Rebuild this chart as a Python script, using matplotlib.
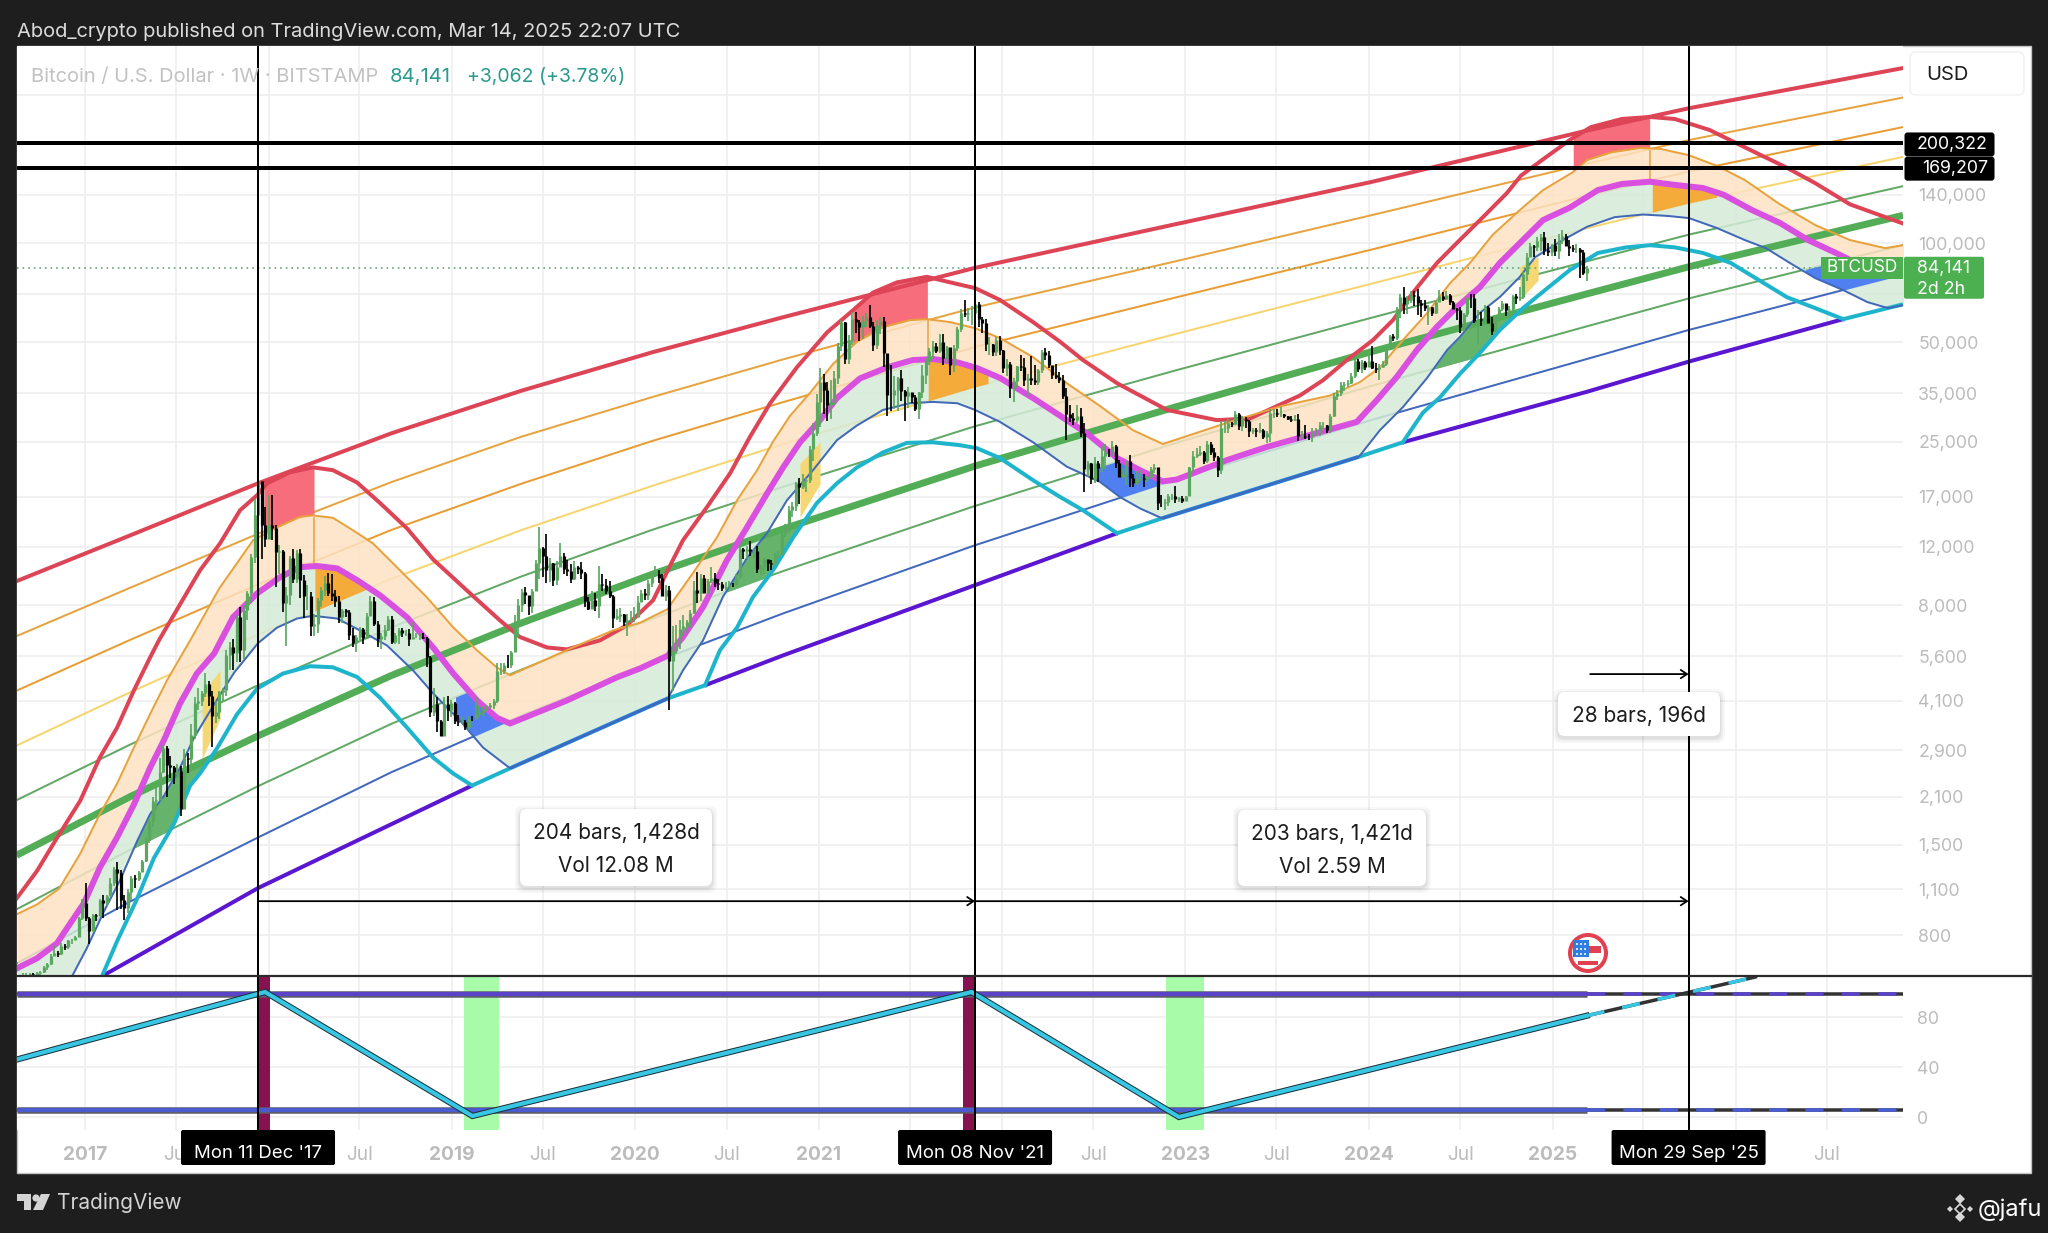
import datetime as dt
import numpy as np
import matplotlib
matplotlib.use("Agg")
import matplotlib.pyplot as plt
from matplotlib.patches import Rectangle, FancyBboxPatch, Circle, Polygon
from matplotlib.ticker import NullLocator

plt.rcParams['font.family'] = ['Inter', 'DejaVu Sans']

W, H = 2048, 1233
first_week = dt.date(2016, 8, 15)

# weekly candles, one list per field, first bar is the week of 15 Aug 2016
closes = [
    580,570,606,607,608,600,612,618,640,655,690,705,700,740,735,770,772,790,900,1000,
    900,820,920,915,1020,1000,1050,1150,1270,1230,1020,965,1080,1190,1180,1240,1340,1550,1770,2040,
    2050,2500,2950,2620,2580,2490,2510,1930,2750,2730,3220,4050,4100,4340,4600,4230,3680,3780,4350,4430,
    5650,5950,5740,7350,5860,7700,8700,11200,15000,19000,14000,12700,
    14000,13700,11600,11700,8100,8600,11100,9600,11500,9500,8500,8500,6900,7000,8300,8900,9350,8700,8500,8200,
    7350,7700,7600,6500,6150,6400,6750,6350,7400,8200,7000,6300,6450,6700,7250,6200,6500,6700,6600,6600,
    6300,6420,6420,6420,6350,5550,3800,4000,3550,3200,4000,3850,4050,
    3550,3530,3530,3410,3620,3600,3740,3800,3880,3920,3970,4090,5050,5060,5280,5260,5750,6950,8000,8750,
    8550,7950,8850,10700,11900,11300,10200,10700,9500,10400,11300,10300,10140,9600,10400,10300,10000,8200,7800,8300,
    7950,9250,9200,8800,8500,7300,7400,7520,7100,7200,7250,7350,
    8180,8700,8600,9330,9900,9900,9670,8530,8900,5400,5800,6250,6780,6900,7130,7540,8880,8700,9650,8700,
    9450,9670,9360,9290,9000,9070,9230,9200,9700,11800,11650,11850,11650,11700,10250,10400,11000,10750,10650,11350,
    11350,13100,13750,15500,16000,18700,18200,19000,19100,23800,26500,33000,
    38000,35800,32200,33000,38900,48600,57500,44600,51000,59000,57500,55800,57900,59700,56200,49000,56600,58000,46400,34700,
    34600,35800,39000,35500,34500,35300,34200,31500,35400,39900,43800,47000,48900,47000,50000,44900,48300,42700,48200,55000,
    61500,61000,61300,61500,65500,58700,57200,49300,49300,46700,50700,47300,
    41800,43100,36300,38150,42400,42200,38400,39100,38400,37800,41300,46800,45800,42700,39700,39400,38500,34300,30300,29400,
    29000,29900,26600,20600,21500,19300,21600,20800,22600,23300,23200,24300,21500,19550,20000,21800,19400,18800,19300,19400,
    19250,19570,20600,20900,16300,16280,16450,17100,17100,16750,16840,16540,
    17100,20900,22700,23000,23300,21800,24600,23200,22400,20500,27500,27500,28450,28300,30300,27800,29200,28900,26900,27100,
    26900,27100,25900,26500,30500,30600,30300,30300,30000,29300,29000,29300,26000,26000,25900,25800,26500,26600,28000,28000,
    27200,30000,34500,35000,37100,37400,37700,39500,44000,41400,43700,42100,
    43900,41700,41600,42000,43000,48300,52100,51700,63100,68400,65300,67200,69600,69300,65700,64900,63400,63900,61500,66300,
    69300,67700,69600,66200,63200,62700,55800,60800,68200,68000,58200,58700,58500,64200,57300,54100,59900,63200,65900,62800,
    62900,69000,68000,68700,80400,90600,97900,97200,101200,104400,95100,93700,98300,
    94500,101300,104800,97700,96500,96100,96200,94200,81079,84141,
]
highs = [
    585,585,612,612,612,612,620,622,645,660,700,745,715,755,750,775,780,795,905,1030,
    1150,905,925,925,1025,1060,1060,1190,1290,1330,1260,1060,1100,1210,1220,1250,1350,1580,1800,2100,
    2250,2760,3020,3000,2780,2610,2630,2610,2920,2840,3490,4200,4480,4400,4980,4700,4400,4100,4400,4470,
    5860,6180,6300,7480,7900,8000,8830,11400,16800,19666,17500,15800,
    17200,17200,14000,12200,11750,9100,11300,11800,11750,11800,9850,9200,8750,7500,8430,9040,9770,9990,9900,8870,
    8500,7760,7760,7700,6820,6500,6850,6810,7550,8500,8480,7150,6580,6950,7420,7400,6600,6830,6800,6700,
    6780,7100,6600,6600,6570,6400,5600,4470,4200,3580,4220,4240,4130,
    4080,3720,3660,3590,3690,3700,4200,3970,3950,3990,4030,4140,5350,5350,5350,5630,5800,7450,8350,8950,
    9080,8400,8950,10950,13800,12000,13100,11100,10700,10900,12300,11500,10950,10640,10900,10500,10800,10080,8480,8800,
    8700,10500,9950,9560,9480,8550,7800,7830,7500,7520,7680,7880,
    8500,8900,8950,9550,10150,10500,10200,9950,9190,9150,6900,6950,7200,7450,7230,7750,9480,10080,9950,9850,
    9560,10400,9990,9600,9380,9400,9430,9300,9900,12100,11900,12090,12470,11830,12090,10580,11100,10980,10980,11490,
    11700,13200,14100,15970,16400,18850,19450,19920,19400,24300,28400,34800,
    41900,40100,37900,38500,40900,49700,58300,57500,52700,61800,61700,58400,60000,61200,64900,57500,58500,59600,59500,45800,
    42600,39500,39300,41300,35800,36700,35100,34600,35400,42600,44700,48200,50500,49800,52900,52900,48800,47300,49000,55700,
    62900,67000,63700,64300,69000,66300,59500,59000,51900,49500,51900,52100,
    47500,44500,43500,38900,42500,45800,44800,40000,45400,42600,41600,47500,48200,47000,42400,42900,40800,39800,36400,32200,
    30600,32400,31700,28500,21900,21500,22400,21900,24200,24600,23700,25200,24400,22000,20600,21900,22800,19900,20400,20500,
    19900,19700,21000,21400,20700,17200,16800,17300,17400,18400,17000,17100,
    17100,21000,23400,23900,24200,23400,25200,25000,23900,22700,28800,28800,29200,28600,31000,30500,30000,29800,29000,27500,
    27500,28400,27300,27000,31400,31400,31500,31800,30400,30000,30000,30200,30400,26900,28100,26300,27500,27500,28600,28600,
    28000,30300,35200,35900,38000,37900,38400,40300,44700,44400,44300,43800,
    45900,48900,43400,42900,43800,48500,52800,52900,64000,70200,73800,68900,71700,71400,72800,67200,67200,65000,64000,67400,
    71900,71000,71700,70000,66900,63500,63800,61400,68400,70000,70000,62800,61700,65000,64500,59800,60700,64100,66500,65500,
    64500,69400,70000,73600,81500,93500,99800,98800,104000,106500,108300,99900,99000,
    102700,106500,109800,106500,102000,98800,99500,96500,95000,85300,
]
lows = [
    560,560,565,600,600,590,595,605,612,625,650,690,685,695,720,725,750,770,790,890,
    880,750,870,880,915,900,980,1050,1130,950,960,890,930,1020,1110,1170,1240,1330,1520,1700,
    1900,2120,2470,2100,2400,2300,2450,1830,2220,2480,2620,3150,3850,3950,4200,3950,2970,3500,3600,4100,
    4250,5100,5100,5380,5380,5500,7200,8100,10700,14600,11000,12000,
    12800,12600,9100,9900,7600,6000,8000,9300,9300,8400,7300,7700,6450,6430,6600,7900,8500,8500,8200,7900,
    7040,7040,7350,6250,5970,5750,6250,6100,6300,7400,6900,5970,5880,6250,6650,6100,6100,6100,6400,6450,
    6000,6300,6350,6280,6300,5200,3650,3700,3300,3200,3200,3570,3650,
    3480,3450,3480,3340,3350,3570,3620,3650,3700,3820,3860,3880,4050,4900,4950,5150,5170,5750,6400,7600,
    8050,7450,7550,8970,9600,9700,9300,9400,9150,9200,10900,9950,9800,9350,9500,9900,9600,7900,7700,7800,
    7650,7300,8800,8650,8380,6800,7200,7100,6900,6450,7050,7100,
    7670,8150,8300,8300,9100,9700,9300,8500,8200,3850,4400,5700,5900,6450,6560,6800,7500,8100,8200,8800,
    8620,9300,9100,8900,8850,8900,9050,9050,9200,9600,11000,11050,11300,11100,10000,9850,9900,10150,10200,10550,
    11100,11300,12900,13200,14800,15450,16200,18000,17600,18800,21900,26000,
    27700,30400,28800,29300,32300,37400,47100,43000,43000,49200,53200,50400,51300,55500,55400,47000,47800,53000,42000,30000,
    31000,31300,31000,33300,28800,31700,32700,31000,29300,34000,37300,42800,44400,46300,46500,42800,43300,39700,40800,47100,
    53800,59600,58000,56500,62300,55600,53400,47000,45800,45500,45600,45700,
    40500,39600,34000,33000,36300,41000,36800,34300,37200,37200,37200,40500,44200,41800,38600,38600,37600,33700,25300,28600,
    28000,28500,25900,17600,19500,18600,18800,18900,20300,20700,22400,22700,20800,19500,19500,18500,18200,18200,18500,19000,
    18200,18900,19400,20100,15500,15800,15500,16000,16700,16300,16400,16300,
    16500,17100,20300,22300,22700,21400,21500,22800,21900,19500,19900,26500,26600,27700,28100,27100,26900,27600,25900,26400,
    25800,26500,25400,24800,25000,29500,29800,29700,29500,29000,28600,28800,25200,25400,25400,25300,24900,26000,26000,27200,
    26500,26600,29700,33400,34500,35500,36700,37500,39000,40600,40500,41300,
    42600,41500,40300,38500,41900,42300,47700,50500,50900,59100,60800,60800,65900,64500,60700,59600,62400,56500,60200,60800,
    66600,66700,67100,65000,63300,58400,53500,54300,59700,63500,57100,49500,56200,57800,57200,52600,53600,57700,62400,60000,
    58900,61800,65200,66700,67500,76800,90500,90800,94700,94500,92200,91500,91500,
    91200,89200,99500,97700,91200,94100,93300,78200,80000,76600,
]
first_open = 575

# long term channel: top line, seven inner lines, floor
channel_bars = [0.3, 32.6, 69, 106.9, 144, 181, 218.4, 273, 330, 385.6, 447, 476, 537]
line_top = [9450, 13000, 18700, 26500, 35700, 46600, 59600, 84100, 114000, 153000, 219000, 256000, 339000]
line_1 = [6440, 9020, 13150, 18850, 25900, 34100, 44400, 63800, 88000, 121300, 173800, 205000, 276000]
line_2 = [4400, 6270, 9240, 13500, 18660, 25100, 32950, 48400, 68350, 95400, 139000, 164700, 224600]
line_3 = [3000, 4350, 6500, 9600, 13500, 18350, 24600, 36650, 53000, 75200, 110800, 132100, 182400]
line_4 = [2050, 3020, 4570, 6840, 9770, 13500, 18250, 27850, 41100, 59300, 88000, 106000, 148700]
line_5 = [1395, 2100, 3210, 4890, 7060, 9900, 13600, 21100, 31850, 46800, 70100, 84700, 121300]
line_6 = [957, 1450, 2260, 3490, 5100, 7260, 10140, 15970, 24750, 36850, 55900, 67900, 98500]
line_7 = [656, 1010, 1580, 2490, 3700, 5330, 7545, 12140, 19170, 29050, 44500, 54500, 80250]

# cycle arcs
red_bars = [0.4, 6.1, 11.8, 18.4, 24, 28.9, 33.7, 38.3, 40.8, 52.5, 58.2, 63.9, 68.7, 71.6, 78.1, 84.6, 90.3, 97.2, 103.7,
            111.4, 118.8, 128.4, 137.8, 143.5, 151.2, 156.9, 166.3, 174, 181.4, 187, 189.9, 196.7, 203.3, 208.9, 214.7,
            222.3, 230.9, 238.3, 244, 250.8, 259.3, 265.9, 273, 280.1, 289.5, 297.2, 303.7, 313.4, 327.6, 341.8, 351.2,
            365.4, 372, 378.8, 386.2, 391.9, 397.6, 404.4, 410.9, 417.5, 424.3, 428.3, 434.3, 442.2, 448.2, 457, 465,
            472.1, 482, 492, 504, 512, 521.9, 537]
red_prices = [1035, 1250, 1575, 2040, 2760, 3400, 4410, 5550, 6250, 10190, 12300, 15500, 17200, 18700, 20200, 20900, 20500,
              18800, 16300, 13650, 11000, 8860, 7190, 6400, 5950, 5870, 6250, 6950, 8270, 10930, 12570, 15830, 20050, 25800,
              32700, 42000, 53600, 62600, 70800, 76000, 79000, 76000, 73000, 67200, 57600, 50200, 44200, 37600, 31200, 29060,
              29400, 34500, 38400, 44200, 50800, 58400, 70800, 87000, 102100, 119800, 141700, 160000, 178400, 205200, 224500,
              237600, 241000, 237600, 220000, 195000, 169000, 151900, 131000, 114600]

orange_bars = [0.4, 6.1, 12.4, 18.4, 24, 28.9, 33.7, 38.3, 43.1, 49.7, 58, 67.6, 74.4, 80.9, 84.6, 90.3, 96, 101.7, 109.4, 117,
               124.5, 131.3, 137, 140.7, 158.6, 170, 177.7, 185.6, 187, 192.7, 199.6, 205.3, 211, 215.5, 220.3, 226, 232.6,
               239.4, 246.8, 254.5, 259.3, 265.9, 273, 280.1, 289.5, 299.1, 308.5, 317.9, 326.4, 344.6, 359.8, 374, 382.5,
               388.2, 394.7, 401.6, 408.1, 413.8, 420.3, 428, 434.6, 443.1, 447.1, 454.2, 462.2, 468.1, 476.1, 484.1, 492,
               502, 512, 521.9, 531.9, 537]
orange_prices = [925, 990, 1105, 1410, 1860, 2300, 2960, 3740, 4730, 6250, 8990, 12570, 13750, 14800, 14950, 14700, 13480, 12300,
                 10190, 8450, 6850, 5830, 5170, 4900, 5950, 6700, 7070, 7780, 8200, 9980, 12850, 16620, 20500, 25000, 29900, 35100,
                 43000, 50200, 55600, 58400, 58800, 57600, 55200, 51500, 45100, 37600, 32100, 27100, 24600, 28500, 32000, 34500,
                 37900, 42000, 50800, 61300, 75500, 87000, 106000, 125900, 144700, 164000, 178400, 188500, 194000, 192800, 184500,
                 171300, 155200, 131000, 113400, 102100, 96500, 98500]

magenta_bars = [0.4, 6.1, 11.8, 15.5, 19.5, 24, 28.9, 33.7, 38.3, 42.2, 46.8, 51.6, 56.5, 61.9, 68.7, 75.2, 80.9, 85.8, 91.5, 97.2,
                103.7, 111.4, 118.8, 124.5, 131.3, 137, 140.7, 156.9, 171.1, 177.7, 185.6, 189.9, 195.6, 202.4, 208.1, 213.8,
                218.4, 223.2, 228.9, 233.7, 240.3, 248, 255.3, 261, 267.9, 273.5, 280.1, 289.5, 299.1, 304.8, 313.4, 319.9,
                326.4, 330.4, 344.6, 356, 365.4, 381.6, 387.3, 393, 398.7, 404.4, 410.1, 416.6, 422.3, 428, 434.6, 442.2, 450.2,
                457, 465, 472.1, 480.1, 486, 494, 502, 510, 517.9, 525, 531.9, 537]
magenta_prices = [634, 680, 755, 865, 1000, 1280, 1580, 1990, 2570, 3110, 4020, 4960, 5700, 7350, 8670, 9700, 10420, 10500, 10330, 9510,
                  8560, 7340, 5950, 4970, 4110, 3640, 3500, 4110, 4830, 5140, 5620, 6400, 7880, 10930, 13750, 17400, 20900, 24900,
                  29060, 33900, 38900, 42000, 44200, 44500, 43500, 41800, 39000, 33900, 29060, 26500, 22300, 20500, 18950, 19200,
                  21980, 24100, 25700, 28700, 33400, 39300, 47400, 55700, 64000, 73500, 87000, 100000, 117400, 128000, 144700,
                  151000, 153400, 150000, 146800, 140000, 125900, 115000, 102100, 93300, 85700, 80000, 81600]

blue_bars = [16.1, 20.3, 25.2, 29.7, 34.6, 38.3, 42.2, 46.8, 50.8, 56.5, 62.2, 69, 74.4, 80.1, 84.6, 91.5, 98, 105.7, 113.1, 118.8,
             126.5, 133, 140.7, 185.6, 189.9, 195.6, 201.3, 208.1, 213.8, 219.5, 226.9, 233.7, 239.4, 246.8, 254.5, 261, 267.9,
             273, 280.1, 289.5, 299.1, 308.5, 314.2, 319.9, 326.2, 382.2, 388.2, 394.7, 401.6, 407.3, 411, 416.6, 422.3, 428,
             432.3, 440.2, 447.1, 455, 463, 470.1, 476.1, 484.1, 492, 498, 504.9, 512, 520, 526.9, 532.7, 537]
blue_prices = [600, 730, 945, 1170, 1540, 1860, 2110, 2570, 3170, 4000, 4990, 6130, 6830, 7280, 7420, 7280, 6700, 6030, 5070, 4320,
               3570, 2960, 2560, 4170, 5070, 6250, 8480, 11100, 13200, 16620, 20500, 25270, 28000, 31200, 32700, 33000, 32700,
               31200, 28700, 24900, 21000, 18900, 17000, 15700, 14650, 22500, 27100, 31800, 39000, 47400, 52000, 61400, 68600,
               79000, 90500, 102100, 112000, 119800, 122000, 120800, 119000, 111000, 102100, 96500, 86900, 78300, 72000, 66200,
               63500, 64800]

cyan_bars = [24.6, 28.9, 34.6, 39.4, 45.1, 49.7, 52.5, 57.3, 63, 68.7, 76.1, 83.8, 90.3, 97.2, 103.7, 111.4, 118.8, 124.5, 129.9]
cyan_prices = [600, 766, 1030, 1370, 1740, 2270, 2470, 2940, 3730, 4460, 4960, 5220, 5180, 4840, 4190, 3400, 2760, 2470, 2270]
cyan2_bars = [196.2, 200.4, 205.3, 209.8, 215.5, 221.2, 228, 233.7, 239.4, 246.8, 253.6, 261, 268.7, 273.5, 280.1, 289.5, 297.2, 303.7, 313.4]
cyan2_prices = [4570, 5830, 6840, 8450, 10190, 12800, 16300, 18700, 20900, 23200, 24800, 24900, 24400, 23900, 22300, 19110, 17000, 15500, 13200]
cyan3_bars = [394.7, 400.4, 405.3, 411, 416.6, 422.3, 428.9, 435.7, 442.2, 450.2, 458.2, 465, 472.1, 480.1, 488, 496, 504, 512, 520]
cyan3_prices = [24900, 30600, 34100, 40200, 46400, 54500, 63500, 72800, 82800, 93300, 97000, 98500, 97000, 93300, 87000, 77200, 68500, 63500, 58800]

# floor of the channel, its colour changes along the way
floor_parts = [
    ("#5a16d0", [24.6, 69, 129.9], [600, 1110, 2270]),
    ("#1eb5cc", [129.9, 140.7], [2270, 2560]),
    ("#1e80e0", [140.7, 185.6], [2560, 4170]),
    ("#1eb5cc", [185.6, 196.2], [4170, 4570]),
    ("#5a16d0", [196.2, 218.4, 273, 313.4], [4570, 5630, 9190, 13200]),
    ("#1eb5cc", [313.4, 326.2], [13200, 14650]),
    ("#1e80e0", [326.2, 382.2], [14650, 22500]),
    ("#1eb5cc", [382.2, 394.7], [22500, 24900]),
    ("#5a16d0", [394.7, 447, 476, 520], [24900, 35400, 43700, 58800]),
    ("#1eb5cc", [520, 537], [58800, 65200]),
]

# small yellow patches
yellow_patches = [
    ([53.1, 58.2], [4320, 5070], [2740, 3620]),
    ([223.2, 228.9], [21500, 24900], [14750, 18650]),
    ([428, 433.2], [84700, 90800], [67200, 77200]),
]

red_ranges = [(70.5, 85), (238, 259.5), (443, 465)]
orange_ranges = [(85, 100), (259.6, 276.7), (465.5, 484)]
blue_ranges = [(125, 140.5), (307.7, 324.7), (509, 532.7)]
green_ranges = [(30, 60), (185, 240), (390, 435)]

edge_bars = [85, 259.5, 465]
edge_top = [14800, 58400, 191300]
edge_bottom = [10670, 44200, 152000]

level_upper = 200322
level_lower = 169207
last_price = 84141
marked_bars = [69, 273, 476]

price_ticks = [280000, 140000, 100000, 70000, 50000, 35000, 25000, 17000, 12000, 8000, 5600, 4100, 2900, 2100, 1500, 1100, 800]
# these two keep their grid line, the label is covered by the USD box and the price tag
unlabelled_prices = [280000, 70000]
# empty labels sit behind the date tags on the time axis
time_ticks = [(2017, 1, "2017"), (2017, 7, "Jul"), (2018, 1, ""), (2018, 7, "Jul"), (2019, 1, "2019"), (2019, 7, "Jul"),
              (2020, 1, "2020"), (2020, 7, "Jul"), (2021, 1, "2021"), (2021, 7, ""), (2022, 1, ""), (2022, 7, "Jul"),
              (2023, 1, "2023"), (2023, 7, "Jul"), (2024, 1, "2024"), (2024, 7, "Jul"), (2025, 1, "2025"), (2025, 7, ""),
              (2026, 1, ""), (2026, 7, "Jul")]

# cycle oscillator in the lower pane
osc_bars = [0.4, 71, 130, 272, 331, 447]
osc_values = [46, 100, 0.8, 100, 0, 81]
osc_future_bars = [447, 495]
osc_future_values = [81, 112]
osc_top = 98.4
osc_bottom = 5.6
osc_end = 447
dark_bands = [(69, 72.5), (269.5, 273)]
light_bands = [(127.6, 137.5), (327.4, 338)]


def box(left, top, right, bottom):
    return [left / W, 1 - bottom / H, (right - left) / W, (bottom - top) / H]


def lw(px):
    return px * 0.72


fig = plt.figure(figsize=(W / 100, H / 100), dpi=100, facecolor="#1e1e1e")

back = fig.add_axes([0, 0, 1, 1], zorder=-1)
back.set_xlim(0, W)
back.set_ylim(H, 0)
back.axis("off")
back.add_patch(Rectangle((17, 46), 2014, 1127, facecolor="white", edgecolor="#c4c4c4", lw=1))

xlim = (0.43, 537)
ax = fig.add_axes(box(17, 46, 1903, 976), zorder=1)
low = fig.add_axes(box(17, 976, 1903, 1130), zorder=1)

tick_bars = [(dt.date(y, m, 1) - first_week).days / 7 for y, m, _ in time_ticks]

for a in (ax, low):
    a.set_xlim(*xlim)
    a.set_facecolor("white")
    a.set_axisbelow(True)
    a.grid(True, color="#eeeeee", lw=lw(1.6))
    a.set_xticks(tick_bars)
    a.yaxis.tick_right()
    for s in a.spines.values():
        s.set_visible(False)

ax.set_yscale("log")
ax.set_ylim(601, 395400)
ax.yaxis.set_minor_locator(NullLocator())
ax.set_yticks(price_ticks)
ax.set_yticklabels(["" if v in unlabelled_prices else f"{v:,}" for v in price_ticks])
ax.tick_params(axis="both", length=0, labelbottom=False)
ax.tick_params(axis="y", pad=11, labelsize=12.8, labelcolor="#bcbcbc")

# dense x only for shading between the read curves
grid = np.arange(xlim[0], xlim[1] + 0.25, 0.25)


def on_grid(xs, ys):
    return np.exp(np.interp(grid, xs, np.log(ys)))


r_g = on_grid(red_bars, red_prices)
o_g = on_grid(orange_bars, orange_prices)
m_g = on_grid(magenta_bars, magenta_prices)
b_g = on_grid(blue_bars, blue_prices)
c_g = on_grid(cyan_bars + cyan2_bars + cyan3_bars, cyan_prices + cyan2_prices + cyan3_prices)
l3_g = on_grid(channel_bars, line_3)
l5_g = on_grid(channel_bars, line_5)
l6_g = on_grid(channel_bars, line_6)
l7_g = on_grid(channel_bars, line_7)

# thin channel lines sit under the shading
for vals, col, w in [(line_1, "#e7a33f", 2), (line_2, "#e89c33", 2), (line_3, "#f6d56e", 2),
                     (line_4, "#62a866", 2), (line_6, "#62a866", 2), (line_7, "#4268bd", 2)]:
    ax.plot(channel_bars, vals, color=col, lw=lw(w), zorder=1.5)

ax.fill_between(grid, m_g, o_g, color="#fde2c2", alpha=0.85, lw=0, zorder=2)
ax.fill_between(grid, b_g, m_g, color="#d5ead7", alpha=0.85, lw=0, zorder=2)

for lo, hi in red_ranges:
    mask = (grid >= lo) & (grid <= hi)
    ax.fill_between(grid[mask], o_g[mask], r_g[mask], color="#f76d7b", lw=0, zorder=2.1)
for lo, hi in orange_ranges:
    mask = (grid >= lo) & (grid <= hi)
    ax.fill_between(grid[mask], l3_g[mask], m_g[mask], where=m_g[mask] > l3_g[mask], color="#f4ab3a", lw=0, zorder=2.1)
for lo, hi in blue_ranges:
    mask = (grid >= lo) & (grid <= hi)
    upper = np.minimum(m_g, l6_g)[mask]
    lower = np.maximum(b_g, l7_g)[mask]
    ax.fill_between(grid[mask], lower, upper, where=upper > lower, color="#4f7ff0", lw=0, zorder=2.1)
for lo, hi in green_ranges:
    mask = (grid >= lo) & (grid <= hi)
    upper = np.minimum(l5_g, b_g)[mask]
    lower = np.maximum(l6_g, c_g)[mask]
    ax.fill_between(grid[mask], lower, upper, where=upper > lower, color="#66b36c", lw=0, zorder=2.1)
for xs, up, dn in yellow_patches:
    ax.fill_between(xs, dn, up, color="#f5d873", lw=0, zorder=2.1)

ax.vlines(edge_bars, edge_bottom, edge_top, color="#e8a23c", lw=lw(1.5), zorder=2.2)

ax.plot(channel_bars, line_5, color="#53ad57", lw=lw(7), zorder=2.5, solid_capstyle="butt")
ax.plot(channel_bars, line_top, color="#dd4456", lw=lw(4), zorder=3)
for color, xs, ys in floor_parts:
    ax.plot(xs, ys, color=color, lw=lw(4), zorder=3, solid_capstyle="butt")

ax.plot(red_bars, red_prices, color="#dd4456", lw=lw(4), zorder=3, solid_joinstyle="round")
ax.plot(orange_bars, orange_prices, color="#e8a23c", lw=lw(2), zorder=3, solid_joinstyle="round")
ax.plot(blue_bars, blue_prices, color="#4268b8", lw=lw(2), zorder=3, solid_joinstyle="round")
ax.plot(magenta_bars, magenta_prices, color="#d94fe0", lw=lw(6), zorder=3.2, solid_joinstyle="round")
for xs, ys in [(cyan_bars, cyan_prices), (cyan2_bars, cyan2_prices), (cyan3_bars, cyan3_prices)]:
    ax.plot(xs, ys, color="#1eb5cc", lw=lw(4), zorder=3.1, solid_joinstyle="round")

# candles
bars = np.arange(len(closes))
close_a = np.array(closes, dtype=float)
open_a = np.concatenate(([first_open], close_a[:-1]))
up = close_a >= open_a
wick_col = np.where(up, "#5aa760", "black")
ax.vlines(bars, lows, highs, colors=wick_col, lw=lw(1.7), zorder=4)
ax.vlines(bars, open_a, close_a, colors=wick_col, lw=lw(3.2), zorder=4.1)

ax.axhline(last_price, color="#5c9c72", lw=lw(1.6), ls=(0, (1, 2.5)), zorder=2.6)
ax.axhline(level_upper, color="black", lw=lw(4), zorder=5)
ax.axhline(level_lower, color="black", lw=lw(4), zorder=5)
for b in marked_bars:
    ax.axvline(b, color="black", lw=lw(2), zorder=5)
    low.axvline(b, color="black", lw=lw(2), zorder=5)

# distance arrows
arrow = dict(arrowstyle="->,head_length=0.45,head_width=0.3", color="black", lw=lw(1.8), shrinkA=0, shrinkB=0)
ax.annotate("", xy=(273, 1013), xytext=(69, 1013), arrowprops=arrow, zorder=5)
ax.annotate("", xy=(476, 1013), xytext=(273, 1013), arrowprops=arrow, zorder=5)
ax.annotate("", xy=(476, 4940), xytext=(448, 4940), arrowprops=arrow, zorder=5)

# lower pane
low.set_ylim(-10.4, 112.8)
low.set_yticks([0, 40, 80])
low.tick_params(axis="both", length=0)
low.tick_params(axis="y", pad=10, labelsize=12.8, labelcolor="#bcbcbc")
low.tick_params(axis="x", pad=11.6, labelsize=13.8, labelcolor="#bcbcbc")
low.set_xticklabels([t[2] for t in time_ticks])
for lab, t in zip(low.get_xticklabels(), time_ticks):
    if t[2] != "Jul":
        lab.set_fontweight("bold")

for lo, hi in dark_bands:
    low.axvspan(lo, hi, color="#87124f", lw=0, zorder=1)
for lo, hi in light_bands:
    low.axvspan(lo, hi, color="#a8fba8", lw=0, zorder=1)

for lev, col in [(osc_top, "#5b42cc"), (osc_bottom, "#4a5cd4")]:
    low.plot([xlim[0], osc_end], [lev, lev], color="#5c5c6c", lw=lw(6.5), zorder=2, solid_capstyle="butt")
    low.plot([xlim[0], osc_end], [lev, lev], color=col, lw=lw(3.8), zorder=2.1, solid_capstyle="butt")
    low.plot([osc_end, xlim[1]], [lev, lev], color="#333333", lw=lw(3.5), zorder=2, solid_capstyle="butt")
    low.plot([osc_end, xlim[1]], [lev, lev], color=col, lw=lw(3.5), zorder=2.1, ls=(0, (5.2, 5.2)))

low.plot(osc_bars, osc_values, color="#17303a", lw=lw(6.2), zorder=3, solid_joinstyle="miter")
low.plot(osc_bars, osc_values, color="#38c6e2", lw=lw(4.2), zorder=3.1, solid_joinstyle="miter")
low.plot(osc_future_bars, osc_future_values, color="#333333", lw=lw(3.5), zorder=3)
low.plot(osc_future_bars, osc_future_values, color="#38c6e2", lw=lw(3.5), zorder=3.1, ls=(0, (5.2, 5.2)))

# overlay in figure pixels for tags, boxes and branding
top = fig.add_axes([0, 0, 1, 1], zorder=6)
top.set_xlim(0, W)
top.set_ylim(H, 0)
top.axis("off")
fig.canvas.draw()


def price_y(p):
    return top.transData.inverted().transform(ax.transData.transform((1, p)))[1]


def bar_x(b):
    return top.transData.inverted().transform(ax.transData.transform((b, 1000)))[0]


top.plot([17, 2031], [976, 976], color="#2b2b2b", lw=lw(2.2))

top.text(17, 32, "Abod_crypto published on TradingView.com, Mar 14, 2025 22:07 UTC", color="#dcdcdc", fontsize=14.45, va="center")
top.text(31, 77, "Bitcoin / U.S. Dollar · 1W · BITSTAMP", color="#c2c2c2", fontsize=14.45, va="center")
top.text(390, 77, "84,141", color="#2b9a8c", fontsize=14.6, va="center")
top.text(467, 77, "+3,062 (+3.78%)", color="#2b9a8c", fontsize=14, va="center")

top.add_patch(FancyBboxPatch((1914, 56), 106, 35, boxstyle="round,pad=4,rounding_size=6", facecolor="white", edgecolor="#f0f0f0", lw=1))
top.text(1926, 75, "USD", color="#1c1c1c", fontsize=14.5, va="center")

for value in (level_upper, level_lower):
    y = price_y(value)
    top.add_patch(FancyBboxPatch((1906, y - 9.5), 87, 21, boxstyle="round,pad=1.5,rounding_size=3", facecolor="black", edgecolor="none"))
    top.text(1988, y + 1, f"{value:,}", color="white", fontsize=12.8, va="center", ha="right")

y = price_y(last_price)
top.add_patch(Rectangle((1821, y - 11), 82, 22, facecolor="#4caf50", edgecolor="none"))
top.text(1862, y, "BTCUSD", color="white", fontsize=12.4, ha="center", va="center")
top.add_patch(FancyBboxPatch((1905, y - 10), 78, 40, boxstyle="round,pad=1,rounding_size=2", facecolor="#4caf50", edgecolor="none"))
top.text(1917, y + 1, "84,141", color="white", fontsize=12.8, va="center")
top.text(1917, y + 22, "2d 2h", color="white", fontsize=12.8, va="center")

for lines, x0, y0, x1, y1 in [(["204 bars, 1,428d", "Vol 12.08 M"], 520, 809, 712, 886),
                              (["203 bars, 1,421d", "Vol 2.59 M"], 1238, 810, 1426, 886),
                              (["28 bars, 196d"], 1558, 692, 1720, 736)]:
    for grow, shade in [(5, 0.03), (3, 0.04), (1.5, 0.05)]:
        top.add_patch(FancyBboxPatch((x0, y0 + 2), x1 - x0, y1 - y0, boxstyle=f"round,pad={grow},rounding_size=8", facecolor="black", alpha=shade, edgecolor="none"))
    top.add_patch(FancyBboxPatch((x0, y0), x1 - x0, y1 - y0, boxstyle="round,pad=0,rounding_size=7", facecolor="white", edgecolor="none"))
    line_y = [y0 + 24, y0 + 57] if len(lines) == 2 else [y0 + 24]
    for yy, line in zip(line_y, lines):
        top.text((x0 + x1) / 2, yy, line, color="#1c1c1c", fontsize=15, ha="center", va="center")

for b, label in zip(marked_bars, ["Mon 11 Dec '17", "Mon 08 Nov '21", "Mon 29 Sep '25"]):
    x = bar_x(b)
    top.add_patch(FancyBboxPatch((x - 76, 1131), 152, 33, boxstyle="round,pad=1,rounding_size=2", facecolor="black", edgecolor="none"))
    top.text(x, 1153, label, color="white", fontsize=13.4, ha="center", va="center")

# US calendar badge
top.add_patch(Circle((1588, 953), 18, facecolor="white", edgecolor="#e04050", lw=lw(4)))
top.add_patch(Rectangle((1573, 940), 16, 17, facecolor="#2f7de0", edgecolor="none"))
for dx in (1577, 1581, 1585):
    for dy in (944, 949, 954):
        top.add_patch(Circle((dx, dy), 1, facecolor="white", edgecolor="none"))
top.add_patch(Rectangle((1589, 946), 12, 7, facecolor="#e04050", edgecolor="none"))
top.add_patch(Rectangle((1578, 961), 20, 4, facecolor="#e04050", edgecolor="none"))

# TradingView mark
logo = "#d4d4d4"
top.add_patch(Polygon([(17, 1194), (31, 1194), (31, 1210), (24, 1210), (24, 1201), (17, 1201)], facecolor=logo, edgecolor="none"))
top.add_patch(Circle((36, 1198), 3.6, facecolor=logo, edgecolor="none"))
top.add_patch(Polygon([(41, 1194), (50, 1194), (43, 1210), (33, 1210)], facecolor=logo, edgecolor="none"))
top.text(57, 1203, "TradingView", color="#d4d4d4", fontsize=15, va="center")

# Binance diamonds next to the handle
for cx, cy, r in [(1960, 1199, 5), (1960, 1217, 5), (1950, 1209, 3), (1970, 1209, 3)]:
    top.add_patch(Polygon([(cx, cy - r), (cx + r, cy), (cx, cy + r), (cx - r, cy)], facecolor="#d8d8d8", edgecolor="none"))
top.add_patch(Polygon([(1960, 1204), (1965, 1209), (1960, 1214), (1955, 1209)], facecolor="none", edgecolor="#d8d8d8", lw=1.2))
top.text(1978, 1210, "@jafu", color="white", fontsize=17, va="center")

fig.savefig("out.png", dpi=100, facecolor=fig.get_facecolor())
